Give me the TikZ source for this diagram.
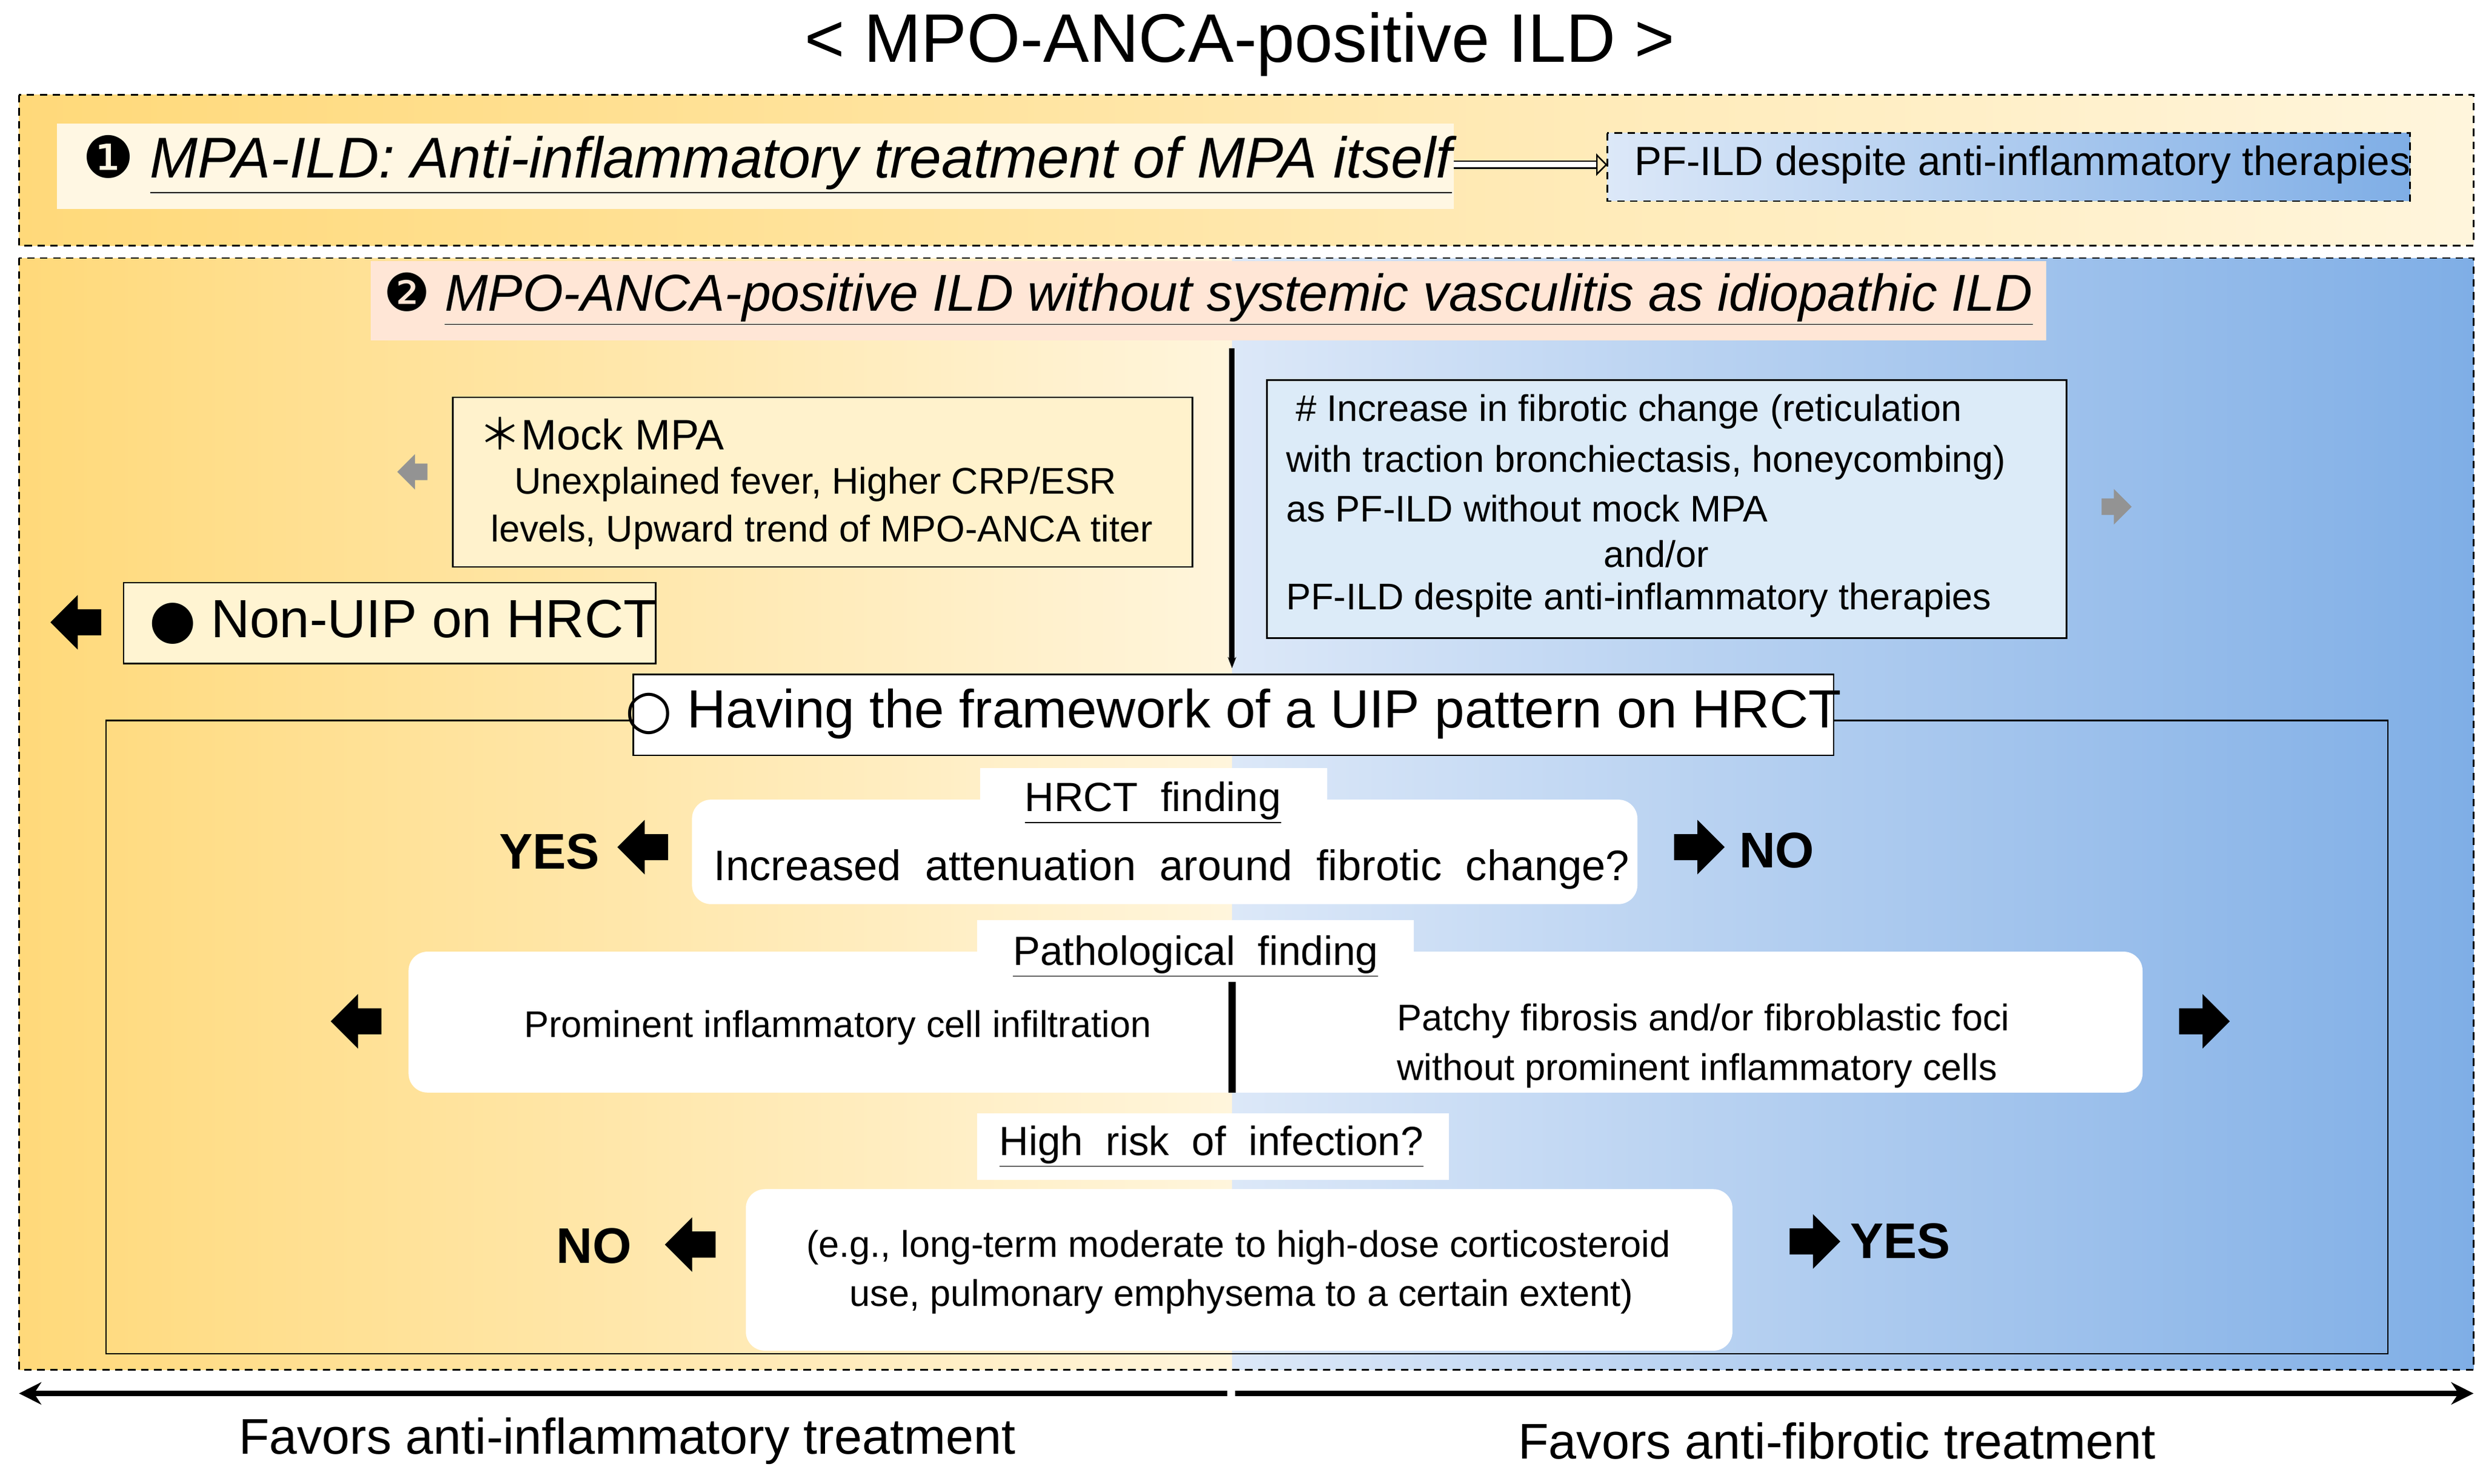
\documentclass[tikz,border=0pt]{standalone}
\usepackage{fontspec}
\setmainfont{Liberation Sans}
\newfontfamily\djv{DejaVu Sans}
\newfontfamily\cjk{Noto Sans CJK JP}
\usetikzlibrary{shapes.arrows,arrows.meta}
\definecolor{org}{HTML}{FFD97A}
\definecolor{crm}{HTML}{FFF5DC}
\definecolor{lbl}{HTML}{DCE8F8}
\definecolor{dbl}{HTML}{7FAEE6}
\definecolor{peach}{HTML}{FFE6D6}
\begin{document}
\begin{tikzpicture}[x=0.03cm,y=-0.03cm,
 txt/.style={font=\fontsize{20}{24}\selectfont,inner sep=0pt},
 big/.style={font=\fontsize{27}{31}\selectfont},
 mid/.style={font=\fontsize{22}{26}\selectfont},
 bold/.style={font=\fontsize{27}{31}\selectfont\bfseries},
 dsh/.style={dash pattern=on 4pt off 3pt,line width=0.9pt},
 barr/.style={single arrow,fill=black,inner xsep=0pt,inner ysep=8*0.03cm,minimum height=32*0.03cm,single arrow head extend=9*0.03cm},
 garr/.style={single arrow,fill=gray!85,inner xsep=0pt,inner ysep=5*0.03cm,minimum height=19*0.03cm,single arrow head extend=6*0.03cm},
 rbox/.style={fill=white,rounded corners=12*0.03cm,draw=none}]
\useasboundingbox (0,0) rectangle (1568,937);
\fill[white] (0,0) rectangle (1568,937);
% title
\node[font=\fontsize{37}{42}\selectfont] (title) at (783,28) {< MPO-ANCA-positive ILD >};
% box 1
\shade[left color=org,right color=crm] (12,60) rectangle (1562,155);
\draw[dsh] (12,60) rectangle (1562,155);
\fill[crm!80!white] (36,78) rectangle (918,132);
\node[font=\fontsize{31}{35}\selectfont,anchor=west] (h1) at (48,104) {{\djv ❶} \textit{\underline{MPA-ILD: Anti-inflammatory treatment of MPA itself}}};
\shade[left color=lbl,right color=dbl] (1015,84) rectangle (1522,127);
\draw[dsh] (1015,84) rectangle (1522,127);
\node[mid,anchor=west] (pf) at (1028,104) {PF-ILD despite anti-inflammatory therapies};
\coordinate (pfw) at (1015,104);
\coordinate (h1e) at (918,104);
\draw[-{Triangle[open,length=6pt,width=12pt]},double=white,double distance=3pt,thick] (h1e) -- (pfw);
% box 2
\shade[left color=org,right color=crm] (12,163) rectangle (778,865);
\shade[left color=lbl,right color=dbl] (778,163) rectangle (1562,865);
\draw[dsh] (12,163) rectangle (1562,865);
\fill[peach] (234,165) rectangle (1292,215);
\node[font=\fontsize{28}{32}\selectfont] (h2) at (763,189) {{\djv ❷} \textit{\underline{MPO-ANCA-positive ILD without systemic vasculitis as idiopathic ILD}}};
% vertical line
\coordinate (vt) at (778,220);
\coordinate (vb) at (778,422);
\draw[line width=3pt,-{Stealth[length=6pt]}] (vt) -- (vb);
% mock MPA
\draw[thick,fill={rgb,255:red,255;green,242;blue,204}] (286,251) rectangle (753,358);
\node[txt,anchor=west] (mk1) at (302,274) {\fontsize{23}{27}\selectfont{\cjk ＊}Mock MPA};
\node[txt] (mk2) at (515,306) {Unexplained fever, Higher CRP/ESR};
\node[txt] (mk3) at (519,336) {levels, Upward trend of MPO-ANCA titer};
\node[garr,shape border rotate=180] (ga1) at (263,298) {};
% non-UIP
\draw[thick,fill={rgb,255:red,255;green,244;blue,210}] (78,368) rectangle (414,419);
\node[big,font=\fontsize{29}{33}\selectfont,anchor=west] (nu) at (90,393) {{\djv ●} Non-UIP on HRCT};
\node[barr,shape border rotate=180] (ba1) at (52,393) {};
% fibrotic box
\draw[thick,fill={rgb,255:red,220;green,235;blue,248}] (800,240) rectangle (1305,403);
\node[txt,anchor=west] (f1) at (818,260) {\# Increase in fibrotic change (reticulation};
\node[txt,anchor=west] (f2) at (812,292) {with traction bronchiectasis, honeycombing)};
\node[txt,anchor=west] (f3) at (812,321) {as PF-ILD without mock MPA};
\node[txt] (f4) at (1046,350) {and/or};
\node[txt,anchor=west] (f5) at (812,379) {PF-ILD despite anti-inflammatory therapies};
\node[garr] (ga2) at (1334,320) {};
% inner frame
\draw[thick] (67,455) rectangle (1508,855);
\draw[thick,fill=white] (400,426) rectangle (1158,477);
\node[font=\fontsize{29}{33}\selectfont] (uip) at (779,451) {{\djv ○} Having the framework of a UIP pattern on HRCT};
% HRCT finding
\fill[rbox] (437,505) rectangle (1034,571);
\fill[white] (619,485) rectangle (838,522);
\node[mid] (hl) at (728,507) {\underline{HRCT\ \ finding}};
\node[mid,font=\fontsize{23}{27}\selectfont] (hq) at (740,549) {Increased\ \ attenuation\ \ around\ \ fibrotic\ \ change?};
\node[barr,shape border rotate=180] (ba2) at (410,535) {};
\node[bold] (yes1) at (347,538) {YES};
\node[barr] (ba3) at (1069,535) {};
\node[bold] (no1) at (1122,537) {NO};
% pathological
\fill[rbox] (258,601) rectangle (1353,690);
\fill[white] (617,581) rectangle (893,622);
\node[mid] (pl) at (755,604) {\underline{Pathological\ \ finding}};
\coordinate (dt) at (778,620);
\coordinate (db) at (778,690);
\draw[line width=4pt] (dt) -- (db);
\node[txt] (pleft) at (529,649) {Prominent inflammatory cell infiltration};
\node[txt,anchor=west] (pr1) at (882,645) {Patchy fibrosis and/or fibroblastic foci};
\node[txt,anchor=west] (pr2) at (882,676) {without prominent inflammatory cells};
\node[barr,shape border rotate=180] (ba4) at (229,645) {};
\node[barr] (ba5) at (1388,645) {};
% infection
\fill[rbox] (471,751) rectangle (1094,853);
\fill[white] (617,703) rectangle (915,745);
\node[mid] (il) at (765,724) {\underline{High\ \ risk\ \ of\ \ infection?}};
\node[txt] (i1) at (782,788) {(e.g., long-term moderate to high-dose corticosteroid};
\node[txt] (i2) at (784,819) {use, pulmonary emphysema to a certain extent)};
\node[barr,shape border rotate=180] (ba6) at (440,786) {};
\node[bold] (no2) at (375,787) {NO};
\node[barr] (ba7) at (1142,784) {};
\node[bold] (yes2) at (1200,784) {YES};
% bottom axis
\coordinate (am1) at (775,880);
\coordinate (al) at (12,880);
\coordinate (am2) at (780,880);
\coordinate (ar) at (1562,880);
\draw[line width=3pt,-{Stealth[length=12pt,width=12pt]}] (am1) -- (al);
\draw[line width=3pt,-{Stealth[length=12pt,width=12pt]}] (am2) -- (ar);
\node[font=\fontsize{27}{31}\selectfont] (fl) at (396,910) {Favors anti-inflammatory treatment};
\node[font=\fontsize{27}{31}\selectfont] (fr) at (1160,910) {Favors anti-fibrotic treatment};
\end{tikzpicture}
\end{document}
